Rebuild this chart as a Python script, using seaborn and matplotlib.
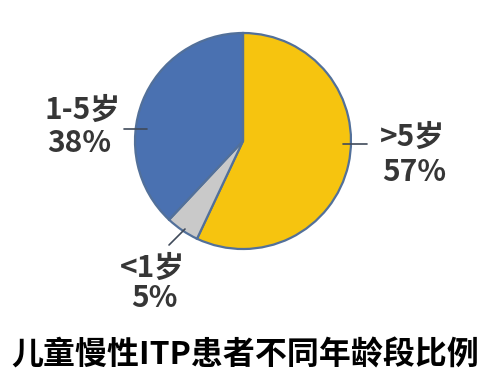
import matplotlib
matplotlib.use("Agg")
import matplotlib.pyplot as plt
import seaborn as sns

# Data
categories = [">5岁", "<1岁", "1-5岁"]
values = [57, 5, 38]
pct_labels = ["57%", "5%", "38%"]
colors = ["#f6c40f", "#c9c9c9", "#4a71b1"]
title = "儿童慢性ITP患者不同年龄段比例"

sns.set_theme(style="white")
plt.rcParams['font.family'] = ['Noto Sans CJK SC', 'DejaVu Sans']

fig = plt.figure(figsize=(4.9, 3.86), dpi=100)
cx, cy, r = 243, 141, 108
W, H = 490, 386
ax = fig.add_axes([(cx - r) / W, (H - cy - r) / H, 2 * r / W, 2 * r / H])
ax.pie(values, colors=colors, startangle=90, counterclock=False,
       wedgeprops=dict(edgecolor="#52709a", linewidth=1.6))
ax.set_xlim(-1, 1)
ax.set_ylim(-1, 1)
ax.set_aspect('auto')
ax.axis('off')

txt = dict(fontsize=21.5, fontweight='bold', color='#363636', ha='center', va='center')

# leader lines
lc = '#404a5a'
ax.plot([-1.10, -0.89], [0.111, 0.111], color=lc, lw=1.2, clip_on=False)
ax.plot([0.926, 1.148], [-0.028, -0.028], color=lc, lw=1.2, clip_on=False)
ax.plot([-0.537, -0.685], [-0.815, -0.963], color=lc, lw=1.2, clip_on=False)

# labels
ax.text(-1.49, 0.29, categories[2], **txt)
ax.text(-1.52, -0.02, pct_labels[2], **txt)
ax.text(1.57, 0.04, categories[0], **txt)
ax.text(1.59, -0.285, pct_labels[0], **txt)
ax.text(-0.84, -1.175, categories[1], **txt)
ax.text(-0.82, -1.45, pct_labels[1], **txt)

fig.text(0.5, 1 - 356 / H, title, fontsize=23, fontweight='bold', color='black',
         ha='center', va='center')

fig.savefig("out.png", dpi=100, facecolor='white')
